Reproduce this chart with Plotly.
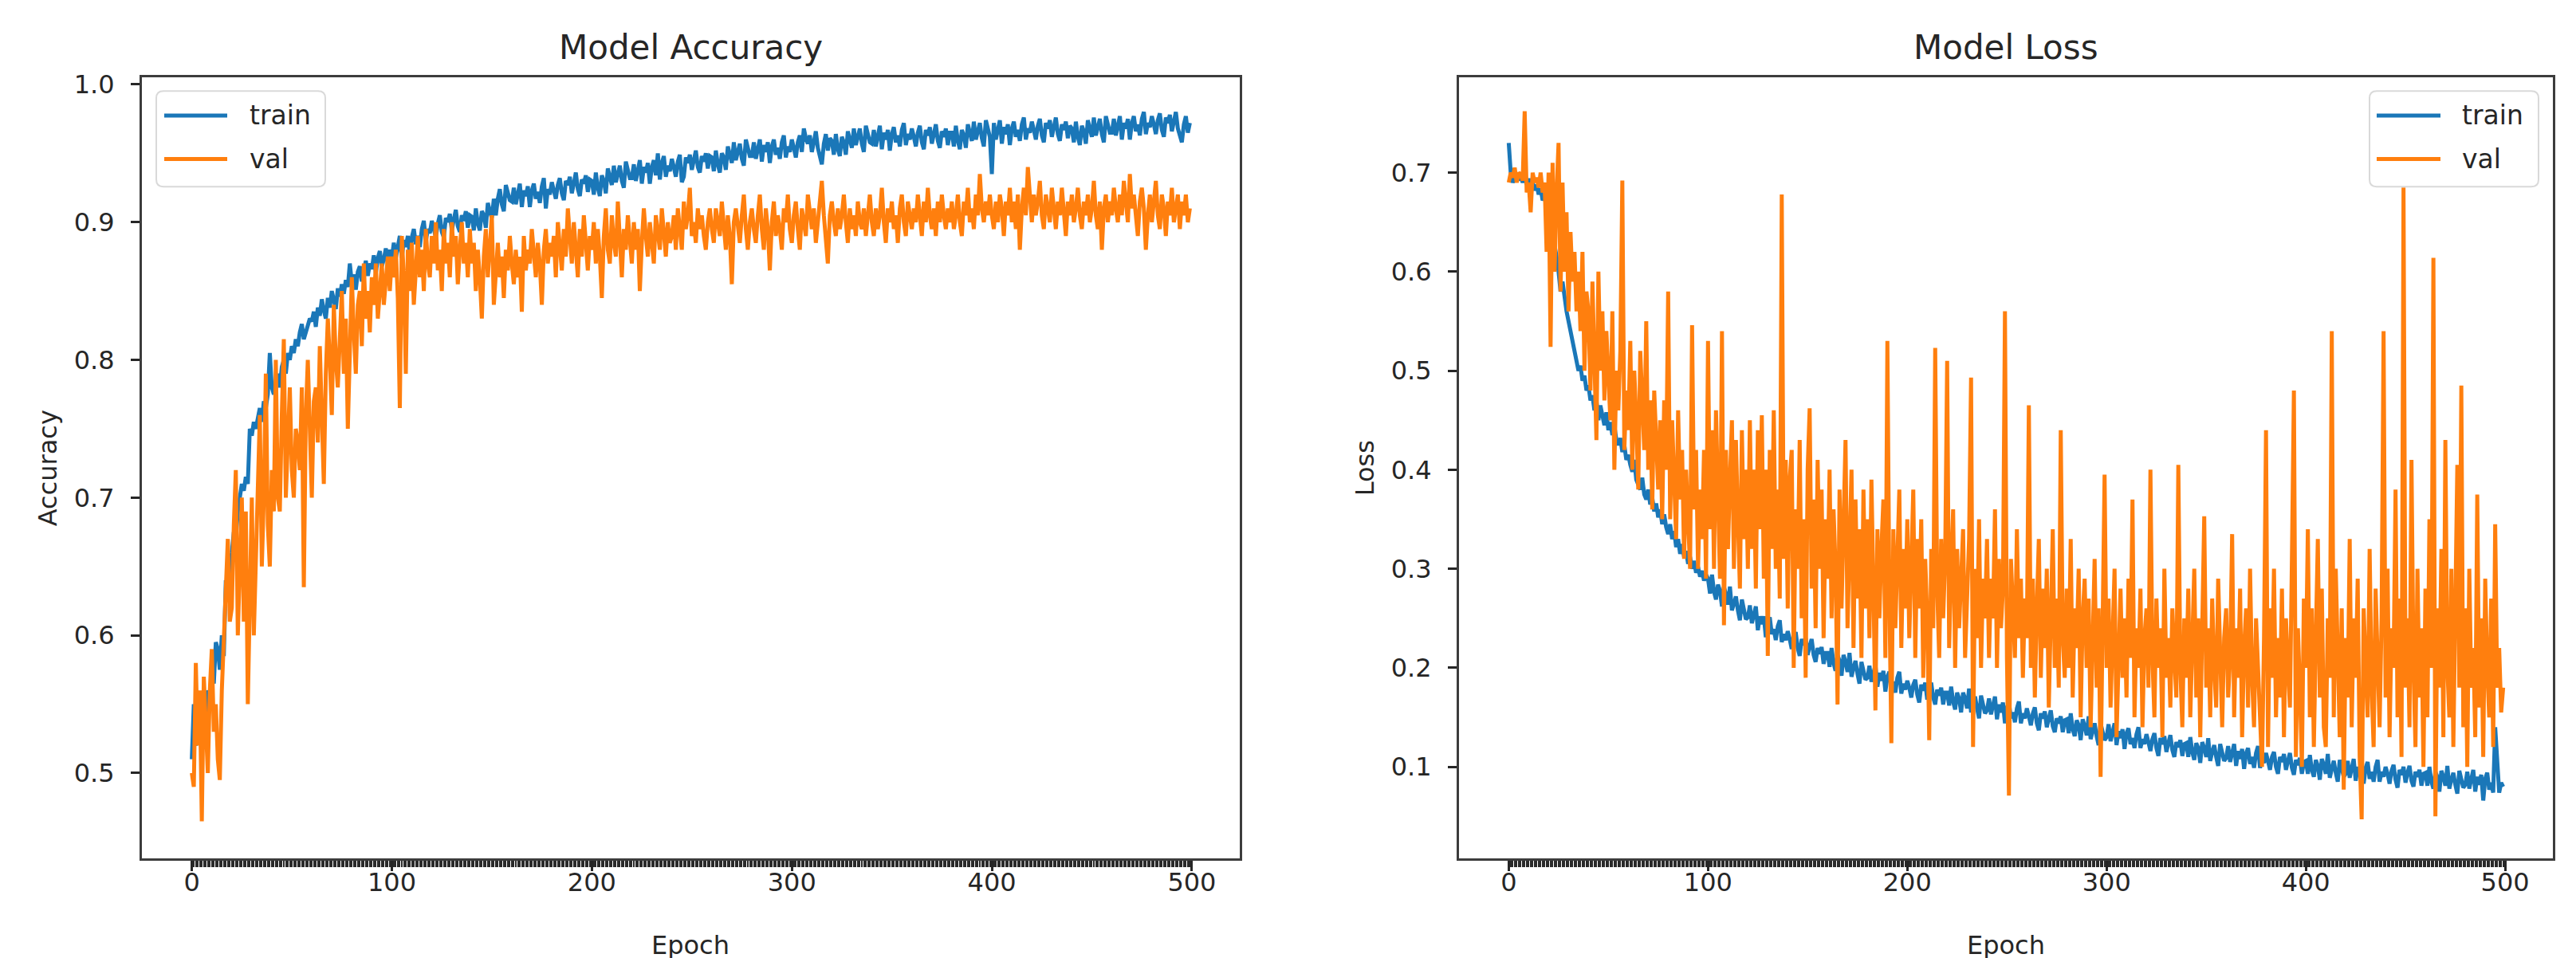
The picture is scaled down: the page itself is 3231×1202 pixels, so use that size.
import plotly.graph_objects as go

epochs = list(range(500))

train_acc = [
0.510,0.550,0.520,0.535,0.525,0.545,0.540,0.530,0.560,0.555,0.570,0.565,0.595,0.590,0.575,0.600,0.585,0.640,0.625,0.650,
0.660,0.675,0.670,0.690,0.700,0.710,0.705,0.715,0.710,0.750,0.745,0.755,0.750,0.760,0.765,0.755,0.770,0.765,0.775,0.805,
0.780,0.775,0.785,0.790,0.780,0.795,0.800,0.790,0.805,0.800,0.810,0.805,0.815,0.810,0.820,0.826,0.815,0.820,0.825,0.830,
0.828,0.835,0.824,0.838,0.832,0.844,0.836,0.830,0.845,0.838,0.850,0.843,0.837,0.852,0.846,0.855,0.848,0.858,0.853,0.870,
0.856,0.862,0.851,0.864,0.868,0.857,0.864,0.872,0.861,0.870,0.866,0.876,0.863,0.874,0.879,0.868,0.873,0.881,0.870,0.880,
0.874,0.885,0.874,0.882,0.890,0.874,0.887,0.882,0.890,0.876,0.889,0.895,0.884,0.890,0.882,0.895,0.901,0.886,0.895,0.892,
0.901,0.895,0.889,0.899,0.905,0.893,0.889,0.903,0.900,0.906,0.894,0.902,0.909,0.897,0.893,0.905,0.901,0.908,0.896,0.905,
0.904,0.894,0.910,0.899,0.894,0.908,0.905,0.896,0.914,0.908,0.903,0.917,0.905,0.917,0.924,0.913,0.908,0.927,0.921,0.916,
0.915,0.925,0.913,0.921,0.928,0.911,0.923,0.919,0.926,0.911,0.923,0.928,0.917,0.922,0.914,0.926,0.932,0.910,0.924,0.920,
0.929,0.923,0.917,0.927,0.932,0.921,0.916,0.930,0.927,0.933,0.921,0.928,0.936,0.924,0.919,0.931,0.928,0.934,0.922,0.931,
0.930,0.920,0.936,0.925,0.919,0.934,0.930,0.921,0.939,0.933,0.927,0.941,0.929,0.935,0.941,0.930,0.925,0.944,0.937,0.932,
0.932,0.942,0.930,0.938,0.945,0.928,0.940,0.936,0.943,0.928,0.940,0.945,0.934,0.950,0.931,0.943,0.948,0.933,0.941,0.937,
0.946,0.940,0.933,0.944,0.949,0.929,0.933,0.947,0.943,0.949,0.938,0.945,0.952,0.940,0.936,0.948,0.944,0.950,0.939,0.948,
0.947,0.937,0.952,0.942,0.936,0.950,0.947,0.938,0.955,0.949,0.943,0.958,0.945,0.951,0.957,0.946,0.941,0.960,0.953,0.948,
0.948,0.958,0.946,0.953,0.960,0.944,0.956,0.951,0.958,0.943,0.955,0.960,0.949,0.954,0.946,0.958,0.963,0.947,0.955,0.951,
0.960,0.954,0.947,0.958,0.963,0.951,0.968,0.961,0.957,0.963,0.951,0.958,0.966,0.954,0.949,0.942,0.957,0.964,0.952,0.961,
0.959,0.949,0.964,0.953,0.948,0.962,0.958,0.949,0.966,0.960,0.954,0.968,0.956,0.962,0.968,0.957,0.951,0.970,0.963,0.958,
0.957,0.967,0.955,0.962,0.970,0.953,0.965,0.960,0.967,0.952,0.964,0.969,0.958,0.963,0.955,0.967,0.972,0.956,0.964,0.960,
0.968,0.962,0.955,0.965,0.970,0.958,0.953,0.967,0.963,0.969,0.957,0.964,0.971,0.959,0.954,0.966,0.962,0.968,0.956,0.965,
0.965,0.955,0.970,0.959,0.953,0.967,0.963,0.954,0.971,0.965,0.959,0.973,0.960,0.966,0.972,0.961,0.955,0.974,0.967,0.962,
0.935,0.972,0.960,0.967,0.974,0.957,0.969,0.964,0.971,0.956,0.968,0.973,0.962,0.967,0.959,0.971,0.976,0.960,0.968,0.965,
0.973,0.967,0.960,0.970,0.975,0.963,0.958,0.972,0.968,0.974,0.962,0.969,0.976,0.964,0.959,0.971,0.967,0.973,0.961,0.970,
0.968,0.958,0.973,0.962,0.956,0.970,0.966,0.957,0.974,0.968,0.962,0.976,0.963,0.969,0.975,0.964,0.958,0.977,0.970,0.965,
0.965,0.975,0.963,0.970,0.977,0.960,0.972,0.968,0.975,0.960,0.972,0.977,0.966,0.971,0.963,0.975,0.980,0.964,0.972,0.969,
0.977,0.971,0.964,0.974,0.979,0.967,0.962,0.976,0.972,0.978,0.966,0.973,0.980,0.968,0.963,0.958,0.971,0.977,0.965,0.972,
]

val_acc = [
0.500,0.490,0.580,0.520,0.560,0.465,0.570,0.540,0.500,0.560,0.590,0.530,0.550,0.510,0.495,0.560,0.600,0.640,0.670,0.610,
0.620,0.680,0.720,0.600,0.650,0.700,0.610,0.690,0.550,0.620,0.700,0.600,0.660,0.720,0.760,0.650,0.700,0.790,0.680,0.650,
0.720,0.690,0.800,0.700,0.690,0.760,0.815,0.700,0.740,0.780,0.720,0.700,0.750,0.740,0.720,0.780,0.635,0.760,0.800,0.740,
0.700,0.770,0.780,0.740,0.810,0.760,0.710,0.790,0.830,0.800,0.760,0.840,0.800,0.780,0.820,0.850,0.790,0.830,0.750,0.800,
0.860,0.820,0.790,0.840,0.850,0.810,0.870,0.830,0.850,0.820,0.860,0.840,0.870,0.830,0.855,0.870,0.840,0.860,0.875,0.850,
0.875,0.860,0.880,0.845,0.765,0.890,0.860,0.790,0.880,0.850,0.885,0.840,0.870,0.890,0.860,0.880,0.850,0.895,0.870,0.860,
0.890,0.870,0.900,0.865,0.880,0.850,0.895,0.870,0.885,0.860,0.900,0.875,0.890,0.855,0.880,0.900,0.870,0.885,0.860,0.895,
0.870,0.885,0.850,0.880,0.860,0.830,0.875,0.895,0.860,0.880,0.905,0.840,0.870,0.885,0.860,0.875,0.845,0.880,0.865,0.890,
0.870,0.855,0.880,0.860,0.875,0.835,0.890,0.865,0.880,0.870,0.895,0.875,0.860,0.885,0.870,0.840,0.880,0.895,0.870,0.885,
0.875,0.890,0.860,0.900,0.880,0.865,0.895,0.875,0.910,0.885,0.870,0.900,0.880,0.860,0.895,0.875,0.905,0.880,0.865,0.890,
0.880,0.900,0.870,0.895,0.875,0.845,0.890,0.910,0.880,0.870,0.905,0.885,0.875,0.915,0.890,0.860,0.895,0.880,0.905,0.885,
0.870,0.900,0.880,0.895,0.850,0.885,0.910,0.890,0.875,0.900,0.885,0.870,0.905,0.890,0.880,0.910,0.895,0.875,0.900,0.885,
0.890,0.905,0.880,0.910,0.895,0.880,0.915,0.895,0.905,0.925,0.890,0.900,0.885,0.910,0.895,0.905,0.890,0.880,0.900,0.910,
0.895,0.885,0.910,0.900,0.890,0.915,0.895,0.880,0.905,0.890,0.855,0.900,0.910,0.895,0.885,0.905,0.920,0.895,0.880,0.900,
0.910,0.895,0.885,0.905,0.920,0.895,0.880,0.910,0.895,0.865,0.900,0.915,0.890,0.905,0.895,0.880,0.910,0.900,0.920,0.895,
0.885,0.905,0.915,0.895,0.880,0.910,0.900,0.890,0.920,0.905,0.895,0.910,0.885,0.900,0.915,0.930,0.905,0.890,0.870,0.905,
0.915,0.900,0.890,0.910,0.895,0.905,0.920,0.900,0.885,0.910,0.895,0.905,0.890,0.915,0.900,0.895,0.910,0.890,0.905,0.920,
0.900,0.890,0.910,0.895,0.905,0.925,0.900,0.885,0.910,0.900,0.915,0.895,0.905,0.885,0.910,0.920,0.900,0.890,0.915,0.905,
0.895,0.910,0.900,0.920,0.905,0.890,0.915,0.900,0.925,0.905,0.895,0.910,0.890,0.915,0.900,0.920,0.905,0.895,0.910,0.900,
0.915,0.895,0.905,0.920,0.900,0.890,0.915,0.905,0.925,0.900,0.910,0.895,0.920,0.905,0.935,0.910,0.900,0.915,0.905,0.920,
0.905,0.895,0.915,0.900,0.920,0.910,0.890,0.915,0.905,0.925,0.900,0.915,0.895,0.920,0.880,0.910,0.925,0.905,0.940,0.915,
0.900,0.920,0.905,0.915,0.930,0.905,0.895,0.920,0.910,0.900,0.925,0.910,0.895,0.915,0.905,0.925,0.910,0.890,0.915,0.905,
0.920,0.900,0.910,0.925,0.905,0.895,0.915,0.905,0.920,0.900,0.910,0.930,0.905,0.895,0.915,0.880,0.910,0.920,0.900,0.915,
0.905,0.925,0.910,0.900,0.920,0.905,0.930,0.915,0.900,0.935,0.910,0.920,0.905,0.890,0.915,0.925,0.910,0.880,0.905,0.920,
0.900,0.915,0.930,0.905,0.895,0.920,0.910,0.890,0.915,0.905,0.925,0.900,0.910,0.920,0.895,0.915,0.905,0.920,0.900,0.910,
]

train_loss = [
0.730,0.700,0.690,0.695,0.700,0.692,0.698,0.690,0.696,0.688,0.694,0.685,0.690,0.682,0.688,0.678,0.684,0.672,0.676,0.665,
0.660,0.650,0.640,0.630,0.615,0.600,0.580,0.590,0.570,0.560,0.550,0.540,0.535,0.520,0.510,0.500,0.505,0.490,0.495,0.480,
0.485,0.470,0.475,0.460,0.470,0.450,0.465,0.455,0.445,0.458,0.440,0.448,0.435,0.445,0.430,0.425,0.432,0.418,0.425,0.410,
0.415,0.405,0.398,0.410,0.390,0.385,0.380,0.392,0.375,0.370,0.380,0.365,0.372,0.358,0.366,0.352,0.360,0.345,0.355,0.342,
0.335,0.345,0.330,0.338,0.322,0.330,0.315,0.325,0.312,0.318,0.305,0.312,0.300,0.308,0.296,0.302,0.292,0.298,0.288,0.294,
0.290,0.275,0.294,0.277,0.269,0.284,0.278,0.262,0.282,0.274,0.264,0.282,0.258,0.265,0.272,0.258,0.248,0.269,0.259,0.249,
0.251,0.263,0.245,0.254,0.262,0.238,0.252,0.244,0.252,0.231,0.246,0.251,0.234,0.239,0.228,0.242,0.248,0.226,0.234,0.228,
0.237,0.229,0.219,0.231,0.236,0.220,0.212,0.229,0.223,0.230,0.213,0.222,0.229,0.213,0.206,0.220,0.214,0.221,0.204,0.215,
0.215,0.201,0.220,0.205,0.197,0.213,0.207,0.192,0.213,0.206,0.196,0.215,0.191,0.200,0.207,0.194,0.184,0.206,0.197,0.188,
0.190,0.202,0.186,0.195,0.203,0.181,0.195,0.187,0.197,0.176,0.191,0.196,0.180,0.186,0.175,0.190,0.196,0.174,0.184,0.178,
0.187,0.180,0.170,0.183,0.188,0.173,0.165,0.183,0.177,0.185,0.168,0.178,0.185,0.170,0.163,0.178,0.172,0.180,0.163,0.175,
0.175,0.162,0.181,0.166,0.158,0.175,0.169,0.155,0.175,0.169,0.159,0.179,0.155,0.164,0.171,0.159,0.149,0.172,0.162,0.154,
0.157,0.169,0.153,0.162,0.171,0.148,0.163,0.155,0.165,0.144,0.160,0.165,0.149,0.155,0.145,0.159,0.166,0.144,0.154,0.149,
0.159,0.151,0.142,0.154,0.160,0.144,0.137,0.154,0.149,0.156,0.140,0.149,0.157,0.141,0.135,0.149,0.144,0.151,0.135,0.147,
0.148,0.134,0.154,0.138,0.131,0.147,0.142,0.127,0.148,0.141,0.132,0.151,0.128,0.136,0.144,0.131,0.122,0.144,0.135,0.127,
0.130,0.143,0.126,0.136,0.144,0.122,0.136,0.129,0.138,0.118,0.134,0.139,0.123,0.129,0.119,0.133,0.140,0.119,0.128,0.123,
0.133,0.125,0.116,0.128,0.134,0.119,0.111,0.129,0.123,0.131,0.115,0.124,0.132,0.117,0.110,0.125,0.120,0.127,0.111,0.123,
0.124,0.110,0.130,0.115,0.107,0.124,0.119,0.104,0.125,0.119,0.110,0.129,0.106,0.115,0.122,0.110,0.101,0.123,0.114,0.106,
0.109,0.121,0.105,0.115,0.123,0.101,0.116,0.108,0.118,0.098,0.114,0.119,0.103,0.110,0.099,0.114,0.121,0.099,0.109,0.104,
0.114,0.106,0.097,0.110,0.115,0.100,0.093,0.110,0.105,0.113,0.097,0.106,0.114,0.099,0.092,0.107,0.102,0.109,0.093,0.105,
0.106,0.093,0.112,0.097,0.090,0.107,0.101,0.087,0.108,0.102,0.093,0.113,0.089,0.098,0.106,0.094,0.085,0.107,0.098,0.090,
0.093,0.106,0.089,0.099,0.108,0.086,0.100,0.093,0.103,0.083,0.099,0.105,0.088,0.095,0.085,0.100,0.107,0.085,0.095,0.090,
0.100,0.093,0.083,0.096,0.102,0.087,0.079,0.097,0.092,0.100,0.084,0.094,0.101,0.086,0.080,0.095,0.090,0.097,0.081,0.093,
0.094,0.081,0.100,0.085,0.078,0.095,0.090,0.075,0.096,0.090,0.081,0.101,0.078,0.087,0.094,0.082,0.073,0.096,0.087,0.079,
0.082,0.095,0.078,0.088,0.097,0.075,0.090,0.082,0.092,0.066,0.088,0.094,0.077,0.084,0.074,0.140,0.096,0.074,0.084,0.080,
]

val_loss = [
0.690,0.700,0.695,0.705,0.690,0.700,0.698,0.692,0.762,0.680,0.690,0.660,0.700,0.690,0.695,0.685,0.700,0.680,0.690,0.620,
0.700,0.524,0.710,0.600,0.680,0.730,0.580,0.690,0.600,0.660,0.560,0.640,0.590,0.620,0.560,0.600,0.540,0.620,0.500,0.580,
0.560,0.480,0.590,0.520,0.430,0.600,0.500,0.560,0.470,0.540,0.490,0.450,0.560,0.400,0.500,0.460,0.520,0.692,0.420,0.480,
0.440,0.530,0.400,0.500,0.450,0.380,0.520,0.460,0.420,0.550,0.400,0.470,0.360,0.480,0.420,0.380,0.450,0.350,0.470,0.400,
0.580,0.350,0.450,0.400,0.330,0.460,0.370,0.420,0.310,0.400,0.350,0.300,0.546,0.360,0.420,0.300,0.380,0.330,0.420,0.290,
0.530,0.340,0.440,0.300,0.460,0.350,0.290,0.540,0.243,0.420,0.320,0.390,0.450,0.300,0.430,0.350,0.280,0.440,0.330,0.400,
0.300,0.450,0.320,0.400,0.280,0.440,0.340,0.455,0.290,0.400,0.212,0.420,0.320,0.460,0.300,0.380,0.270,0.678,0.310,0.410,
0.260,0.390,0.420,0.200,0.360,0.300,0.430,0.250,0.350,0.190,0.400,0.462,0.280,0.370,0.240,0.410,0.300,0.380,0.230,0.350,
0.290,0.400,0.250,0.360,0.300,0.163,0.380,0.260,0.350,0.430,0.240,0.330,0.400,0.220,0.370,0.270,0.340,0.210,0.380,0.260,
0.350,0.230,0.390,0.280,0.157,0.340,0.250,0.320,0.370,0.210,0.530,0.270,0.124,0.340,0.240,0.310,0.380,0.220,0.320,0.260,
0.350,0.230,0.310,0.380,0.210,0.330,0.260,0.350,0.190,0.310,0.250,0.127,0.320,0.240,0.523,0.280,0.210,0.330,0.250,0.310,
0.510,0.220,0.300,0.360,0.200,0.320,0.240,0.290,0.340,0.210,0.280,0.330,0.493,0.120,0.300,0.230,0.350,0.200,0.290,0.250,
0.330,0.210,0.290,0.250,0.360,0.200,0.310,0.240,0.280,0.560,0.210,0.071,0.310,0.260,0.210,0.340,0.230,0.290,0.190,0.270,
0.230,0.465,0.200,0.290,0.170,0.260,0.330,0.190,0.280,0.220,0.300,0.160,0.250,0.340,0.200,0.270,0.180,0.440,0.230,0.190,
0.280,0.200,0.330,0.170,0.260,0.220,0.300,0.150,0.250,0.290,0.200,0.270,0.140,0.240,0.310,0.180,0.260,0.090,0.220,0.395,
0.200,0.270,0.160,0.240,0.300,0.130,0.230,0.280,0.190,0.250,0.170,0.290,0.210,0.370,0.150,0.240,0.200,0.280,0.140,0.230,
0.260,0.180,0.400,0.210,0.150,0.270,0.200,0.240,0.130,0.300,0.190,0.230,0.160,0.260,0.210,0.170,0.405,0.200,0.140,0.250,
0.190,0.280,0.150,0.230,0.300,0.170,0.250,0.130,0.220,0.353,0.180,0.240,0.150,0.270,0.200,0.160,0.290,0.190,0.140,0.230,
0.260,0.170,0.210,0.335,0.150,0.240,0.190,0.280,0.130,0.220,0.260,0.160,0.300,0.190,0.140,0.250,0.200,0.170,0.100,0.230,
0.440,0.120,0.260,0.190,0.300,0.150,0.230,0.170,0.280,0.130,0.250,0.200,0.160,0.310,0.480,0.110,0.240,0.180,0.100,0.270,
0.200,0.340,0.150,0.260,0.120,0.230,0.330,0.170,0.280,0.140,0.120,0.250,0.190,0.540,0.150,0.300,0.200,0.130,0.260,0.077,
0.230,0.170,0.330,0.140,0.250,0.190,0.290,0.110,0.047,0.260,0.200,0.150,0.320,0.180,0.120,0.280,0.210,0.140,0.250,0.540,
0.170,0.300,0.130,0.240,0.200,0.380,0.150,0.270,0.110,0.685,0.180,0.250,0.140,0.410,0.200,0.120,0.300,0.170,0.240,0.100,
0.280,0.150,0.350,0.200,0.614,0.050,0.260,0.180,0.320,0.130,0.430,0.200,0.150,0.300,0.120,0.250,0.405,0.180,0.485,0.140,
0.260,0.100,0.300,0.180,0.220,0.130,0.375,0.160,0.250,0.110,0.290,0.200,0.150,0.270,0.120,0.345,0.180,0.220,0.155,0.180,
]

x_ticks = [0, 100, 200, 300, 400, 500]
acc_ticks = [0.5, 0.6, 0.7, 0.8, 0.9, 1.0]
loss_ticks = [0.1, 0.2, 0.3, 0.4, 0.5, 0.6, 0.7]
series_names = ["train", "val"]

BLUE = "#1a77b8"
ORANGE = "#ff7f0e"
FONT = "DejaVu Sans"
TXT = "#262626"
LINE = "#3c3c3c"
LW = 5

W, H = 3231, 1202

def px(x):
    return x / W

def py(y):
    return 1 - y / H

fig = go.Figure()
fig.add_trace(go.Scatter(x=epochs[:len(train_acc)], y=train_acc, mode="lines", name=series_names[0],
                         line=dict(color=BLUE, width=LW), xaxis="x", yaxis="y"))
fig.add_trace(go.Scatter(x=epochs[:len(val_acc)], y=val_acc, mode="lines", name=series_names[1],
                         line=dict(color=ORANGE, width=LW), xaxis="x", yaxis="y"))
fig.add_trace(go.Scatter(x=epochs[:len(train_loss)], y=train_loss, mode="lines", name=series_names[0],
                         line=dict(color=BLUE, width=LW), xaxis="x2", yaxis="y2"))
fig.add_trace(go.Scatter(x=epochs[:len(val_loss)], y=val_loss, mode="lines", name=series_names[1],
                         line=dict(color=ORANGE, width=LW), xaxis="x2", yaxis="y2"))


def xax(domain, anchor):
    return dict(domain=domain, anchor=anchor, range=[-24.95, 523.95],
                tickmode="array", tickvals=x_ticks, ticktext=[str(v) for v in x_ticks],
                ticks="outside", ticklen=13, tickwidth=3, tickcolor=TXT,
                ticklabelstandoff=-14,
                minor=dict(tickmode="array", tickvals=epochs, ticks="outside",
                           ticklen=8, tickwidth=2, tickcolor="#2a2a2a"),
                showline=True, linecolor=LINE, linewidth=3, mirror=True,
                showgrid=False, zeroline=False,
                tickfont=dict(family=FONT, size=32, color=TXT))


def yax(domain, anchor, rng, tv):
    return dict(domain=domain, anchor=anchor, range=rng,
                tickmode="array", tickvals=tv, ticktext=[f"{v:.1f}" for v in tv],
                ticks="outside", ticklen=11, tickwidth=3, tickcolor=TXT,
                ticklabelstandoff=14,
                showline=True, linecolor=LINE, linewidth=3, mirror=True,
                showgrid=False, zeroline=False,
                tickfont=dict(family=FONT, size=32, color=TXT))


def rounded_box(x0, y0, x1, y1, r):
    pts = [
        f"M {px(x0 + r)},{py(y0)}",
        f"L {px(x1 - r)},{py(y0)}",
        f"Q {px(x1)},{py(y0)} {px(x1)},{py(y0 + r)}",
        f"L {px(x1)},{py(y1 - r)}",
        f"Q {px(x1)},{py(y1)} {px(x1 - r)},{py(y1)}",
        f"L {px(x0 + r)},{py(y1)}",
        f"Q {px(x0)},{py(y1)} {px(x0)},{py(y1 - r)}",
        f"L {px(x0)},{py(y0 + r)}",
        f"Q {px(x0)},{py(y0)} {px(x0 + r)},{py(y0)}",
        "Z",
    ]
    return " ".join(pts)


shapes = []
annotations = []
# legends (one per panel): box, handles and labels
for bx0, bx1, hx0, hx1, tx in [(188, 400, 198, 277, 303), (2964, 3176, 2973, 3053, 3078)]:
    shapes.append(dict(type="path", path=rounded_box(bx0, 97, bx1, 218, 9),
                       xref="paper", yref="paper", layer="above",
                       fillcolor="rgba(255,255,255,0.85)",
                       line=dict(color="#d9d9d9", width=2)))
    for name, color, yy in [(series_names[0], BLUE, 128), (series_names[1], ORANGE, 183)]:
        shapes.append(dict(type="line", x0=px(hx0), x1=px(hx1), y0=py(yy), y1=py(yy),
                           xref="paper", yref="paper", layer="above",
                           line=dict(color=color, width=LW)))
        annotations.append(dict(text=name, x=px(tx), y=py(yy), xref="paper", yref="paper",
                                xanchor="left", yanchor="middle", showarrow=False,
                                font=dict(family=FONT, size=33, color=TXT)))

for text, cx in [("Model Accuracy", 858), ("Model Loss", 2508)]:
    annotations.append(dict(text=text, x=px(cx), y=py(42), xref="paper", yref="paper",
                            xanchor="center", yanchor="middle", showarrow=False,
                            font=dict(family=FONT, size=42, color=TXT)))
for cx in (858, 2508):
    annotations.append(dict(text="Epoch", x=px(cx), y=py(1178), xref="paper", yref="paper",
                            xanchor="center", yanchor="middle", showarrow=False,
                            font=dict(family=FONT, size=32, color=TXT)))
for text, cx in [("Accuracy", 52), ("Loss", 1704)]:
    annotations.append(dict(text=text, x=px(cx), y=py(574), xref="paper", yref="paper",
                            xanchor="center", yanchor="middle", showarrow=False, textangle=-90,
                            font=dict(family=FONT, size=32, color=TXT)))

ydom = [(H - 1068) / H, (H - 80) / H]
fig.update_layout(
    width=W, height=H,
    margin=dict(l=0, r=0, t=0, b=0),
    paper_bgcolor="white", plot_bgcolor="white",
    font=dict(family=FONT, size=32, color=TXT),
    showlegend=False,
    xaxis=xax([170 / W, 1547 / W], "y"),
    yaxis=yax(ydom, "x", [0.438, 1.005], acc_ticks),
    xaxis2=xax([1822 / W, 3194 / W], "y2"),
    yaxis2=yax(ydom, "x2", [0.0075, 0.796], loss_ticks),
    shapes=shapes,
    annotations=annotations,
)

fig.write_html("out.html")
